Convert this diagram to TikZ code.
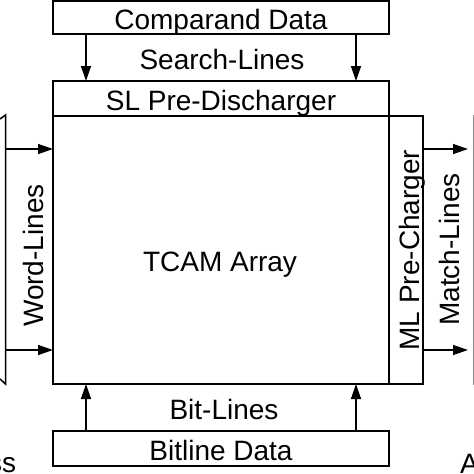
\documentclass[tikz,border=0pt]{standalone}
\usepackage{fontspec}
\setmainfont{Liberation Sans}
\usetikzlibrary{arrows.meta}
\newcommand*{\blockWidth}{336pt}
\newcommand*{\arrayHeight}{268pt}
\newcommand*{\xMid}{221}
\newcommand*{\yMid}{250}

\begin{document}
\begin{tikzpicture}[x=1pt, y=-1pt, >={Triangle[length=15pt, width=10pt]},
	every node/.style={font=\fontsize{28}{32}\selectfont, inner sep=0pt, outer sep=0pt},
	block/.style={draw, rectangle, line width=1.5pt, text height=23.5pt, text depth=0pt},
	wire/.style={->, line width=1.4pt}]
	\useasboundingbox (0,0) rectangle (474,474);
	\clip (0,0) rectangle (474,474);
% horizontal
	\node [block, minimum width=\blockWidth, minimum height=33pt] (comparand) at (\xMid,17.5) {Comparand Data};
	\node [block, minimum width=\blockWidth, minimum height=35pt] (slpd) at (\xMid,98.5) {SL Pre-Discharger};
	\node [block, minimum width=\blockWidth, minimum height=\arrayHeight] (array) at (\xMid,\yMid) {};
	\node [block, minimum width=\blockWidth, minimum height=35pt] (bitline) at (\xMid,448.5) {Bitline Data};
	\node [anchor=base] (tcam) at (220,271) {TCAM Array};
	\node [anchor=base] (searchlines) at (222,69) {Search-Lines};
	\node [anchor=base] (bitlines) at (224,419.3) {Bit-Lines};
% vertical
	\node [block, rotate=90, text height=27pt, minimum width=\arrayHeight, minimum height=34pt] (mlpc) at (406,\yMid) {ML Pre-Charger};
	\node [rotate=90, anchor=base] (wordlines) at (43,255.5) {Word-Lines};
	\node [rotate=90, anchor=base] (matchlines) at (459,249.5) {Match-Lines};
% cut off neighbours
	\draw [line width=1.5pt] (0,119) -- (5.5,115) -- (5.5,384) -- (0,379);
	\fill [black!45] (472.5,115) rectangle (480,385);
	\node [anchor=base east] (leftword) at (16,472.5) {ss};
	\node [anchor=base west] (rightword) at (460,473.3) {A};
	\coordinate (wlbus) at (5.5,\yMid);
	\coordinate (mlbus) at (468,\yMid);
	\foreach \s/\t/\d in {south west/north west/33pt, south east/north east/-33pt}
	{
		\draw [wire] ([xshift=\d]comparand.\s) -- ([xshift=\d]slpd.\t);
		\draw [wire] ([xshift=\d]bitline.\t) -- ([xshift=\d]array.\s);
	}
	\foreach \t/\d [count=\i] in {north west/-33pt, south west/34pt}
	{
		\coordinate (row\i) at ([yshift=\d]array.\t);
		\draw [wire] (row\i -| wlbus) -- (row\i);
		\draw [wire] (row\i -| mlpc.south) -- (row\i -| mlbus);
	}
\end{tikzpicture}
\end{document}
